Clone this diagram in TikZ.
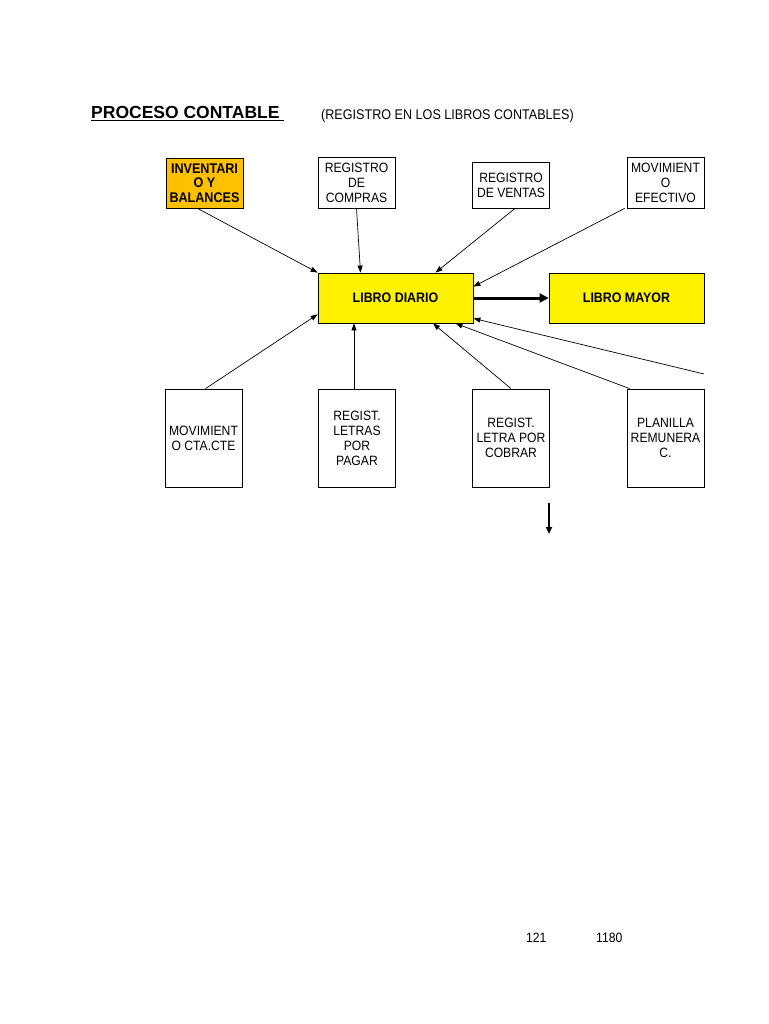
\documentclass[tikz,border=0pt]{standalone}
\usepackage{fontspec}
\setmainfont{Liberation Sans}[FakeStretch=0.9]
\newfontfamily\titulofont{Liberation Sans}
\usetikzlibrary{arrows.meta}
\definecolor{naranja}{RGB}{255,192,0}
\begin{document}
\begin{tikzpicture}[x=1pt,y=-1pt,>={Triangle[length=7pt,width=5pt]}]
      \tikzset{caja/.style={draw, line width=0.8pt, align=center, inner sep=1pt, minimum width=77pt, font={\fontsize{13.5}{15}\selectfont}},
               libro/.style={draw, line width=0.8pt, fill=yellow, minimum width=155pt, minimum height=50pt, font={\bfseries\fontsize{13.8}{15}\selectfont}},
               flecha/.style={->, line width=0.7pt}}
      \useasboundingbox (0,0) rectangle (768,1024);
%% Titulo
      \node[anchor=base west, inner sep=0pt, font={\titulofont\bfseries\fontsize{17.5}{20}\selectfont}] (titulo) at (91,118.5) {\underline{PROCESO CONTABLE\hspace{5pt}}};
      \node[anchor=base west, inner sep=0pt, font={\fontsize{14}{15}\selectfont}] (subtitulo) at (321,120) {(REGISTRO EN LOS LIBROS CONTABLES)};
%% Registros de arriba
      \node[caja, fill=naranja, minimum height=50pt, font={\bfseries\fontsize{14}{14.5}\selectfont}] (inv) at (204.5,183) {INVENTARI\\O Y\\BALANCES};
      \node[caja, minimum height=51pt] (compras) at (356.5,182.5) {REGISTRO\\DE\\COMPRAS};
      \node[caja, minimum height=46pt] (ventas) at (511,185) {REGISTRO\\DE VENTAS};
      \node[caja, minimum height=51pt] (efectivo) at (665.5,182.5) {MOVIMIENT\\O\\EFECTIVO};
%% Libros
      \node[libro] (diario) at (395.5,298) {LIBRO DIARIO};
      \node[libro] (mayor) at (626.5,298) {LIBRO MAYOR};
%% Registros de abajo
      \node[caja, minimum height=98pt] (ctacte) at (203.5,438) {MOVIMIENT\\O CTA.CTE};
      \node[caja, minimum height=98pt] (pagar) at (357,438) {REGIST.\\LETRAS\\POR\\PAGAR};
      \node[caja, minimum height=98pt] (cobrar) at (511,438) {REGIST.\\LETRA POR\\COBRAR};
      \node[caja, minimum height=98pt] (planilla) at (665.5,438) {PLANILLA\\REMUNERA\\C.};
%% Pie
      \node[anchor=base west, inner sep=0pt, font={\fontsize{13.5}{15}\selectfont}] (pag1) at (526,942) {121};
      \node[anchor=base west, inner sep=0pt, font={\fontsize{13.5}{15}\selectfont}] (pag2) at (596,942) {1180};
      \coordinate (fuera) at (704,374);
      \coordinate (baja1) at (549,503);
      \coordinate (baja2) at (549,534);
%Flechas
      \draw[flecha] ([xshift=-7pt]inv.south) -- (diario.north west);
      \draw[flecha] (compras.south) -- ([xshift=-35pt]diario.north);
      \draw[flecha] ([xshift=4pt]ventas.south) -- ([xshift=40pt]diario.north);
      \draw[flecha] ([xshift=-2pt]efectivo.south west) -- ([yshift=-14pt]diario.north east);
      \draw[->, line width=3pt, >={Triangle[length=9pt,width=9pt]}] (diario.east) -- (mayor.west);
      \draw[flecha] ([xshift=2pt]ctacte.north) -- ([yshift=9pt]diario.south west);
      \draw[flecha] ([xshift=-3pt]pagar.north) -- ([xshift=-3pt]pagar.north |- diario.south);
      \draw[flecha] (cobrar.north) -- ([xshift=37.5pt]diario.south);
      \draw[flecha] ([xshift=3pt]planilla.north west) -- ([xshift=60pt]diario.south);
      \draw[flecha] (fuera) -- ([yshift=5pt]diario.south east);
      \draw[->, line width=1.6pt, >={Triangle[length=7pt,width=6pt]}] (baja1) -- (baja2);
\end{tikzpicture}
\end{document}
